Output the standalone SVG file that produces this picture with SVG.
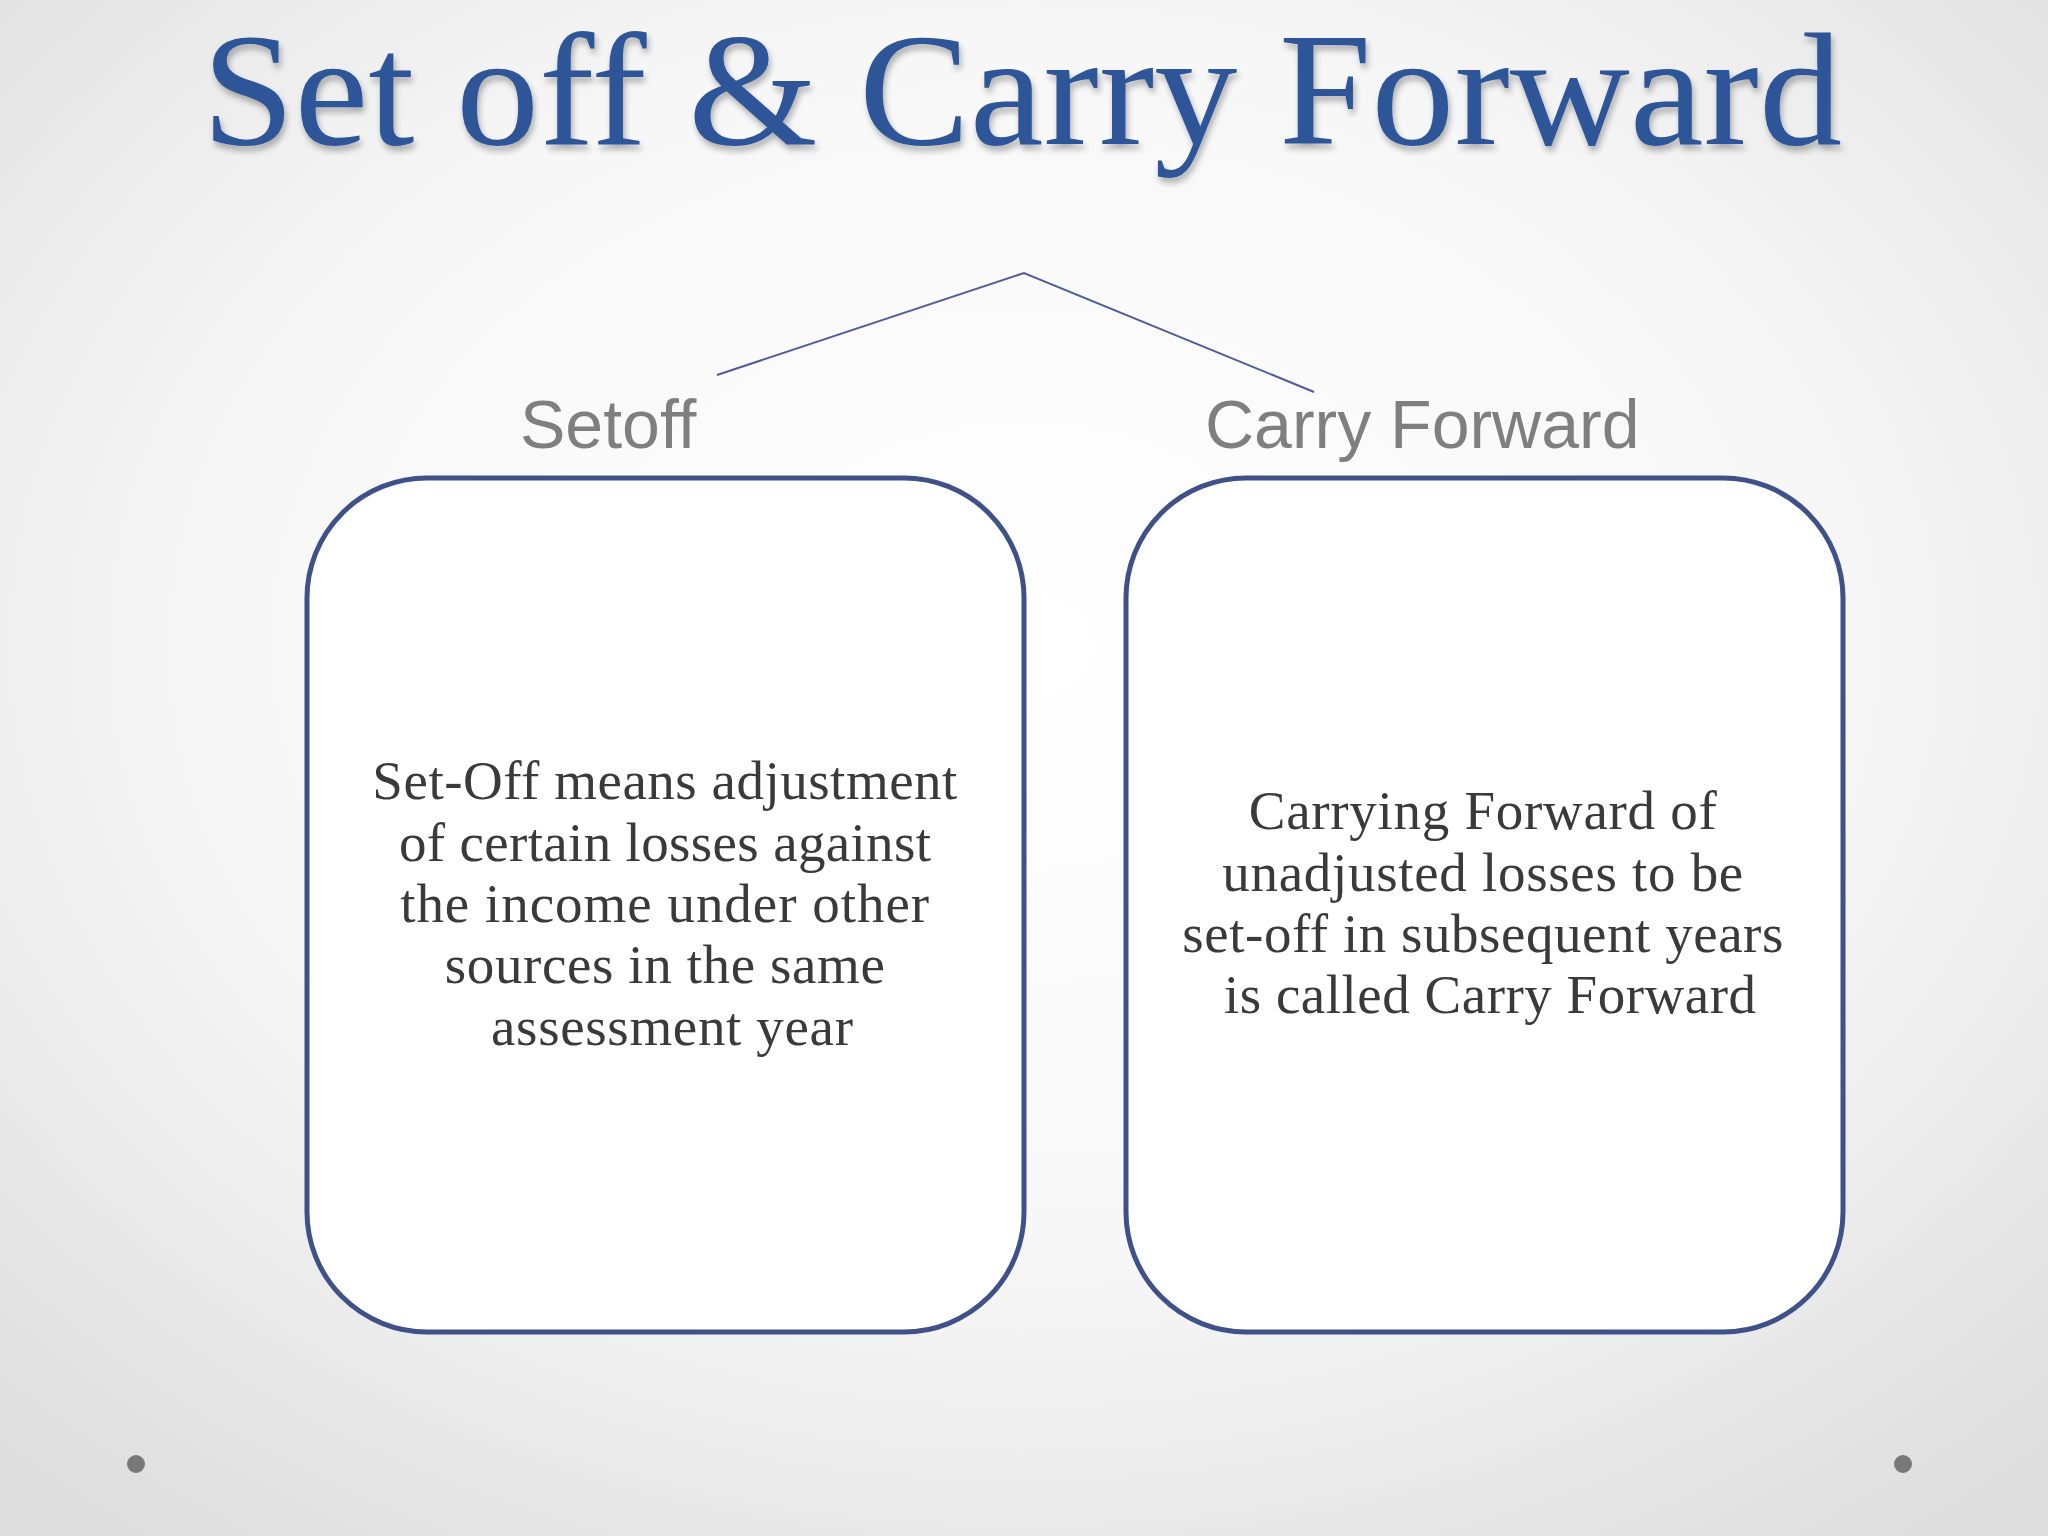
<svg xmlns="http://www.w3.org/2000/svg" width="2048" height="1536" viewBox="0 0 2048 1536">
  <defs>
    <radialGradient id="bg" cx="50%" cy="42%" r="72%">
      <stop offset="0" stop-color="#ffffff"/>
      <stop offset="0.55" stop-color="#f7f7f8"/>
      <stop offset="1" stop-color="#dedede"/>
    </radialGradient>
    <filter id="shadow" x="-5%" y="-20%" width="110%" height="150%">
      <feGaussianBlur in="SourceAlpha" stdDeviation="3"/>
      <feOffset dx="2" dy="5" result="b"/>
      <feComponentTransfer><feFuncA type="linear" slope="0.3"/></feComponentTransfer>
      <feMerge><feMergeNode/><feMergeNode in="SourceGraphic"/></feMerge>
    </filter>
    <style>
      .title { font-family: "Liberation Serif", "Times New Roman", serif; font-size: 160px; fill: #2E5597; }
      .label { font-family: "Liberation Sans", Arial, sans-serif; font-size: 68px; fill: #7F7F7F; }
      .box { fill: #ffffff; stroke: #3F5188; stroke-width: 5; }
      .body { font-family: "Liberation Serif", "Times New Roman", serif; font-size: 55px; fill: #3A3A3A; text-anchor: middle; }
      .conn { fill: none; stroke: #4C5C9C; stroke-width: 2; }
      .dot { fill: #787878; }
    </style>
  </defs>
  <rect x="0" y="0" width="2048" height="1536" fill="url(#bg)"/>

  <g id="title">
    <text class="title" x="1022" y="144" text-anchor="middle" textLength="1640" lengthAdjust="spacingAndGlyphs" filter="url(#shadow)">Set off &amp; Carry Forward</text>
  </g>

  <g id="connectors">
    <polyline class="conn" points="717,375 1024,273 1314,392"/>
  </g>

  <g id="setoff">
    <text class="label" x="520" y="448">Setoff</text>
    <rect class="box" x="307" y="478" width="717" height="854" rx="120" ry="120"/>
    <text class="body">
      <tspan x="672" y="799" textLength="585" lengthAdjust="spacing">Set-Off means adjustment</tspan>
      <tspan x="672" y="861" textLength="532" lengthAdjust="spacing">of certain losses against</tspan>
      <tspan x="672" y="922" textLength="529" lengthAdjust="spacing">the income under other</tspan>
      <tspan x="672" y="983" textLength="440" lengthAdjust="spacing">sources in the same</tspan>
      <tspan x="672" y="1045" textLength="362" lengthAdjust="spacing">assessment year</tspan>
    </text>
  </g>

  <g id="carry-forward">
    <text class="label" x="1205" y="448">Carry Forward</text>
    <rect class="box" x="1126" y="478" width="717" height="854" rx="120" ry="120"/>
    <text class="body">
      <tspan x="1490" y="829" textLength="468" lengthAdjust="spacing">Carrying Forward of</tspan>
      <tspan x="1490" y="891" textLength="521" lengthAdjust="spacing">unadjusted losses to be</tspan>
      <tspan x="1490" y="952" textLength="601" lengthAdjust="spacing">set-off in subsequent years</tspan>
      <tspan x="1490" y="1013" textLength="532" lengthAdjust="spacing">is called Carry Forward</tspan>
    </text>
  </g>

  <circle class="dot" cx="136" cy="1464" r="9"/>
  <circle class="dot" cx="1903" cy="1464" r="9"/>
</svg>
